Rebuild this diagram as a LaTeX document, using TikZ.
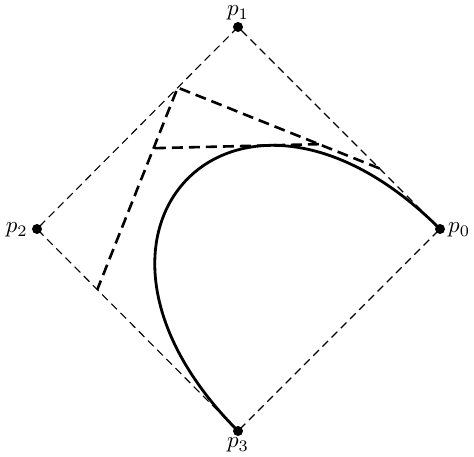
\documentclass[tikz,border=0pt]{standalone}
\usepackage{graphicx}
\usetikzlibrary{calc}
\newcommand{\biglbl}[1]{\scalebox{2.3}{$#1$}}
\begin{document}
\begin{tikzpicture}[x=1pt,y=-1pt,
  dot/.style={circle,fill=black,inner sep=0pt,minimum size=10pt},
  hull/.style={dash pattern=on 8pt off 5pt,line width=1.1pt},
  constr/.style={dash pattern=on 11pt off 6pt,line width=2.6pt},
  curve/.style={line width=2.8pt},
  lbl/.style={inner sep=0pt}]
\useasboundingbox (0,0) rectangle (474,457);
\node[dot] (p0) at (440,229) {};
\node[dot] (p1) at (238,27) {};
\node[dot] (p2) at (37,229) {};
\node[dot] (p3) at (238,431) {};
\node[lbl,anchor=west] (l0) at (448,230) {\biglbl{p_0}};
\node[lbl] (l1) at (238,13) {\biglbl{p_1}};
\node[lbl,anchor=east] (l2) at (28,230) {\biglbl{p_2}};
\node[lbl] (l3) at (238,445) {\biglbl{p_3}};
\draw[hull] (p0.center) -- (p1.center) -- (p2.center) -- (p3.center) -- cycle;
\draw[curve] (p0.center) .. controls (p1.center) and (p2.center) .. (p3.center);
\coordinate (q0) at ($(p0.center)!0.3!(p1.center)$);
\coordinate (q1) at ($(p1.center)!0.3!(p2.center)$);
\coordinate (q2) at ($(p2.center)!0.3!(p3.center)$);
\coordinate (r0) at ($(q0)!0.3!(q1)$);
\coordinate (r1) at ($(q1)!0.3!(q2)$);
\draw[constr] (q0) -- (q1) -- (q2);
\draw[constr] (r0) -- (r1);
\end{tikzpicture}
\end{document}
